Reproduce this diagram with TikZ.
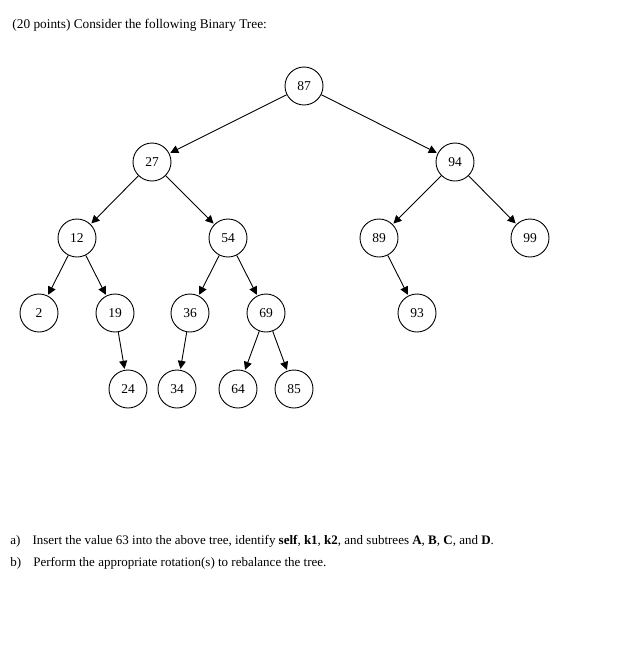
\documentclass[tikz,border=0pt]{standalone}
\usepackage{fontspec}
\setmainfont{Liberation Serif}
\usetikzlibrary{arrows.meta}
\begin{document}
\begin{tikzpicture}[x=1pt,y=-1pt,line width=0.9pt,
  nd/.style={draw,circle,minimum size=38pt,inner sep=0pt,font=\fontsize{13.5}{15}\selectfont},
  edge/.style={-{Triangle[length=8pt,width=8pt]},shorten >=1pt}]
\useasboundingbox (0,0) rectangle (639,657);
\node[anchor=west,font=\fontsize{13.3}{15}\selectfont,inner sep=0pt] (title) at (12,25) {(20 points) Consider the following Binary Tree:};
\node[nd] (n87) at (304,86) {87};
\node[nd] (n27) at (152,162) {27};
\node[nd] (n94) at (455,162) {94};
\node[nd] (n12) at (77,238) {12};
\node[nd] (n54) at (228,238) {54};
\node[nd] (n89) at (379,238) {89};
\node[nd] (n99) at (530,238) {99};
\node[nd] (n2) at (39,313) {2};
\node[nd] (n19) at (115,313) {19};
\node[nd] (n36) at (190,313) {36};
\node[nd] (n69) at (266,313) {69};
\node[nd] (n93) at (417,313) {93};
\node[nd] (n24) at (128,389) {24};
\node[nd] (n34) at (177,389) {34};
\node[nd] (n64) at (238,389) {64};
\node[nd] (n85) at (294,389) {85};
\foreach \a/\b in {87/27,87/94,27/12,27/54,94/89,94/99,12/2,12/19,54/36,54/69,89/93,19/24,36/34,69/64,69/85}
  \draw[edge] (n\a) -- (n\b);
\node[anchor=west,font=\fontsize{13}{15}\selectfont,inner sep=0pt] (qa) at (10,541) {a)\hspace{12pt}Insert the value 63 into the above tree, identify \textbf{self}, \textbf{k1}, \textbf{k2}, and subtrees \textbf{A}, \textbf{B}, \textbf{C}, and \textbf{D}.};
\node[anchor=west,font=\fontsize{13}{15}\selectfont,inner sep=0pt] (qb) at (10,563) {b)\hspace{12pt}Perform the appropriate rotation(s) to rebalance the tree.};
\end{tikzpicture}
\end{document}
